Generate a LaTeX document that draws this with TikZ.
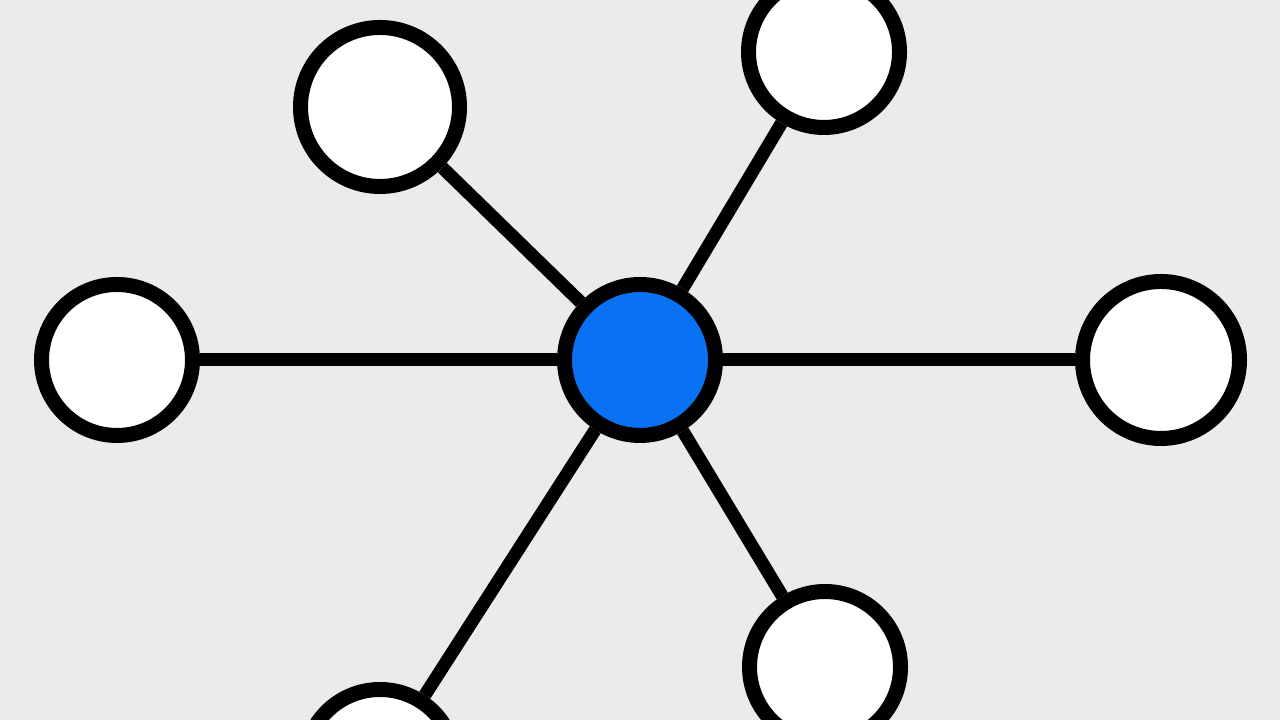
\documentclass[tikz,border=0pt]{standalone}
\usepackage{tikz}
\definecolor{bggray}{HTML}{EBEBEB}
\definecolor{hubblue}{HTML}{0A72F2}

\begin{document}
\begin{tikzpicture}[
  leaf/.style={circle,draw=black,fill=white,line width=0.15cm,inner sep=0pt,minimum size=1.51cm},
  hub/.style={leaf,fill=hubblue},
  spoke/.style={line width=0.13cm}
]
\clip (0,0) rectangle (12.8,7.2);
\fill[bggray] (0,0) rectangle (12.8,7.2);
% hub and leaves
\node[hub] (c) at (6.4,3.6) {};
\node[leaf,minimum size=1.59cm] (tl) at (3.8,6.13) {};
\node[leaf] (tr) at (8.24,6.68) {};
\node[leaf] (l) at (1.17,3.6) {};
\node[leaf,minimum size=1.57cm] (r) at (11.61,3.6) {};
\node[leaf] (br) at (8.25,0.53) {};
\node[leaf] (bl) at (3.8,-0.45) {};
% spokes
\foreach \n in {tl,tr,l,r,br,bl}
  \draw[spoke] (c) -- (\n);
\end{tikzpicture}
\end{document}
